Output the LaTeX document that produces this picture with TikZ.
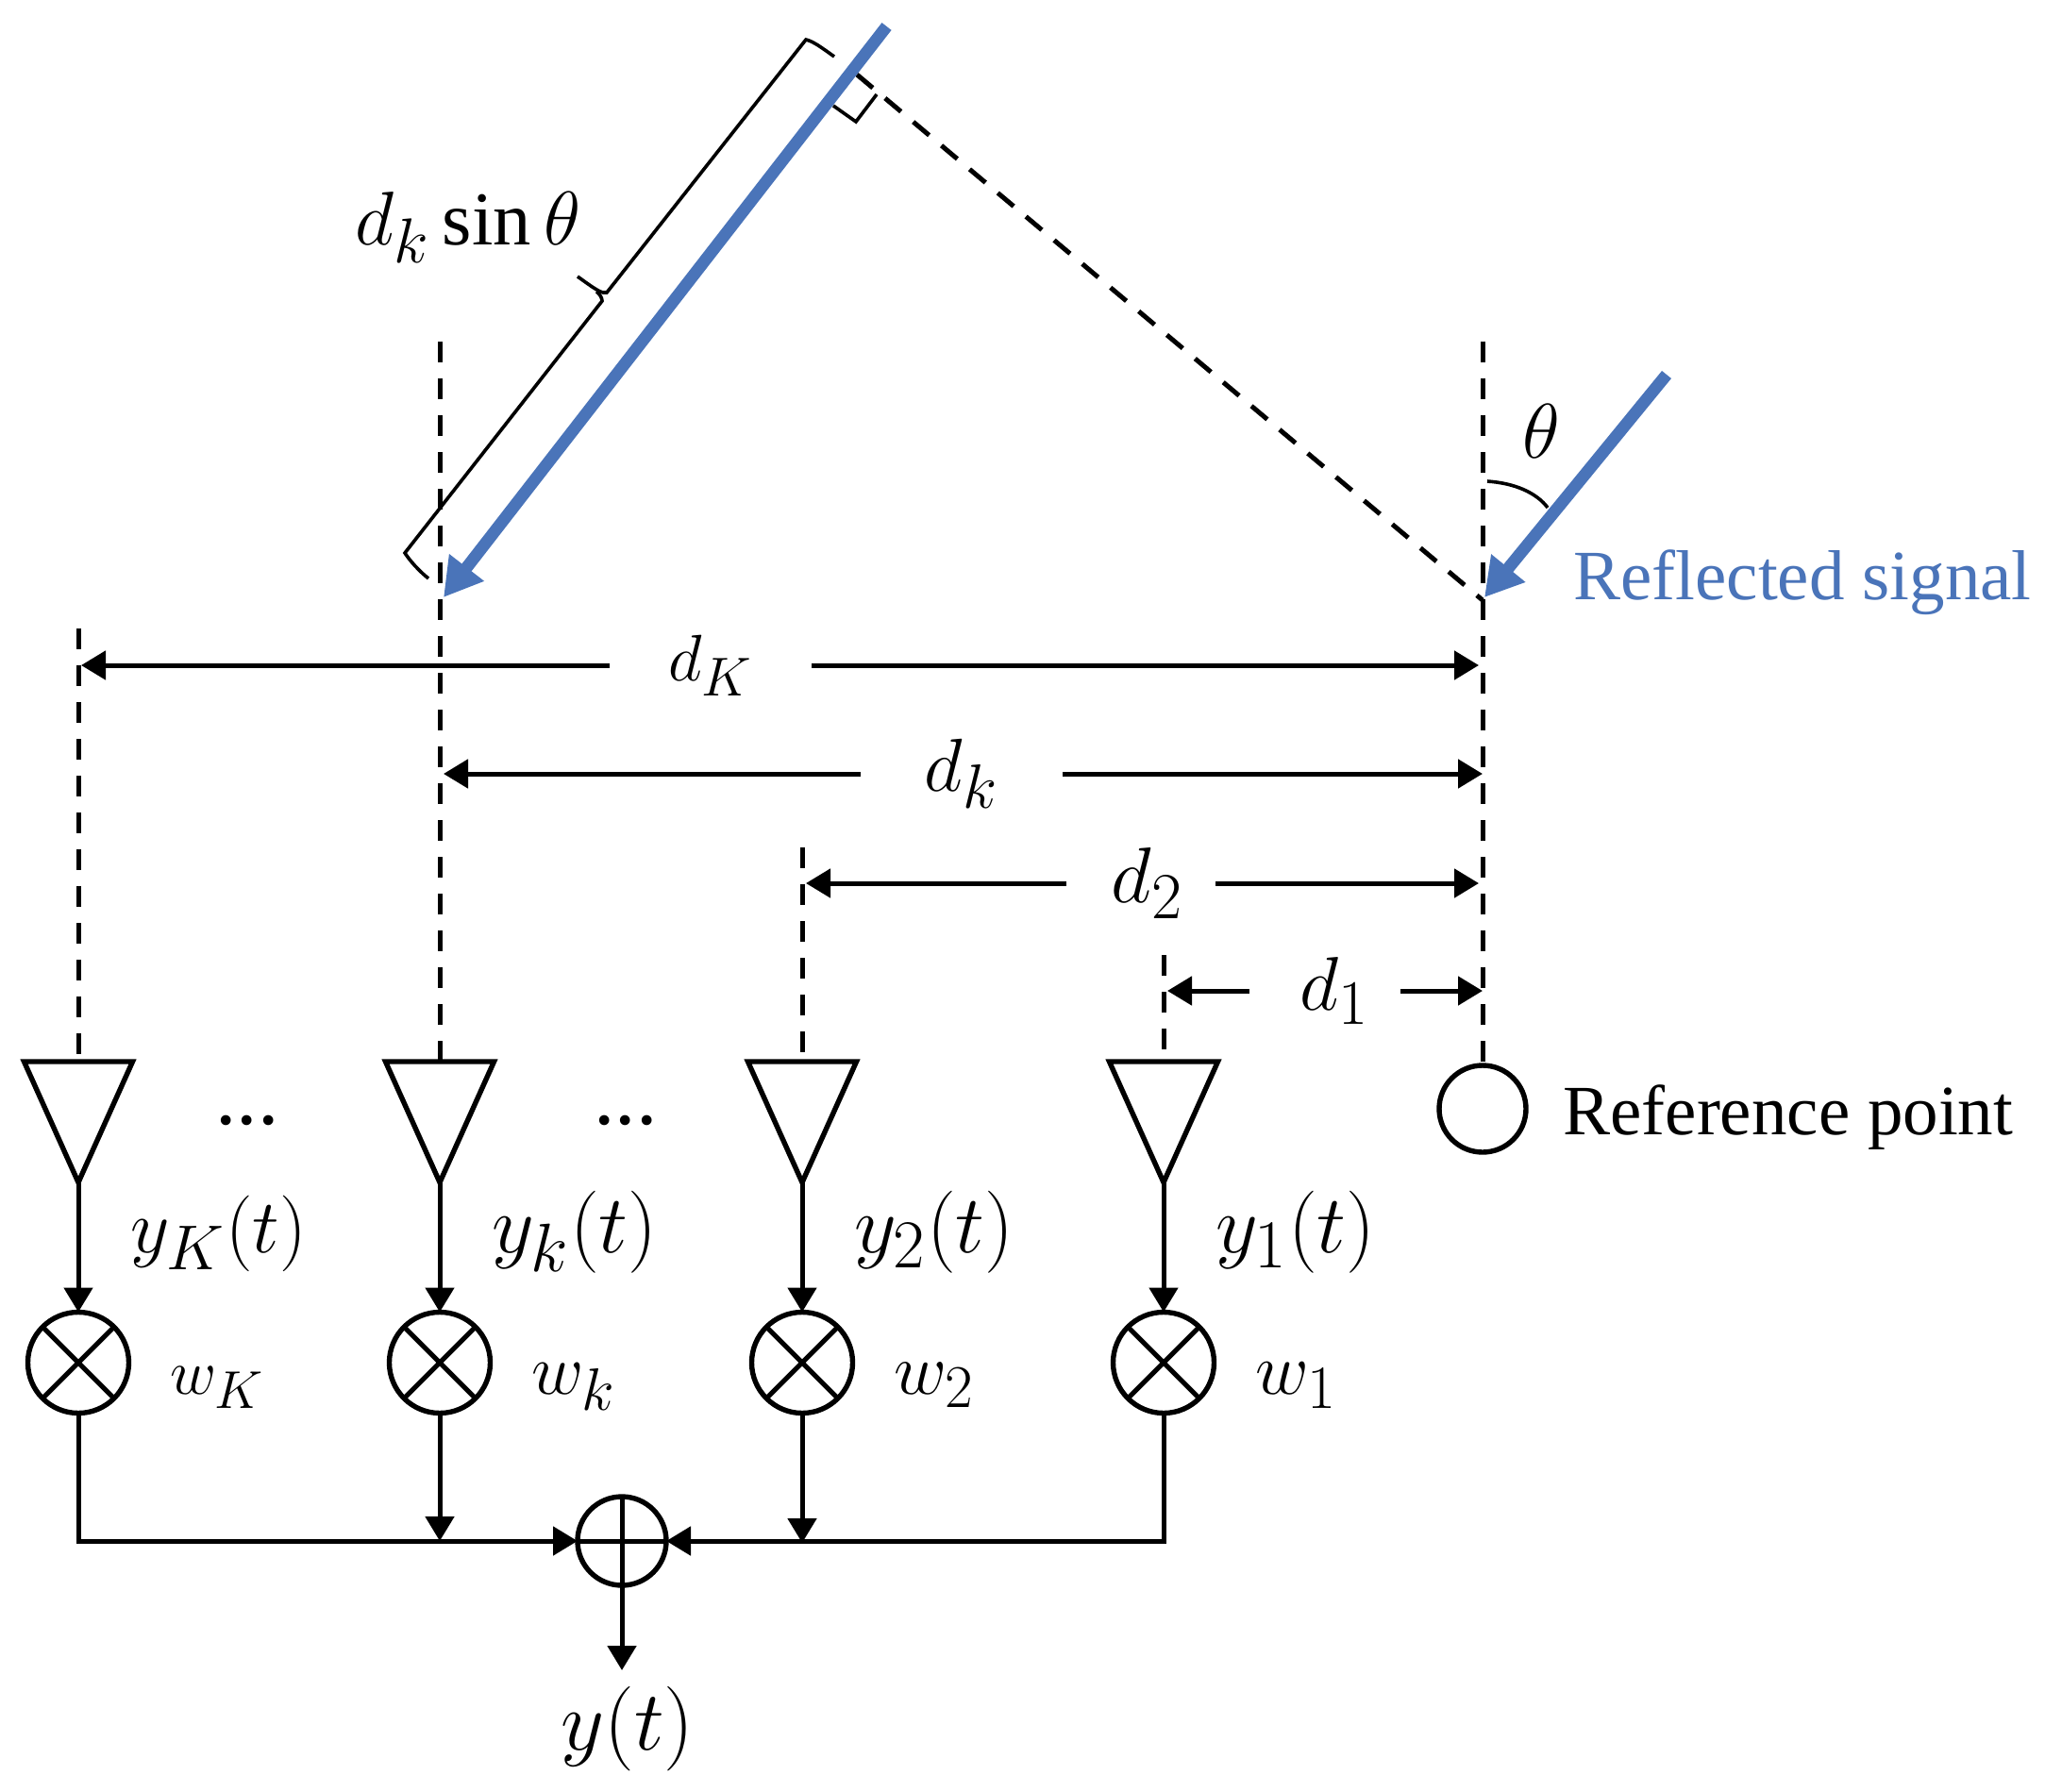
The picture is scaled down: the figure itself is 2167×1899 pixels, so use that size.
\documentclass[tikz,border=0pt]{standalone}
\usepackage{fontspec}
\setmainfont{Liberation Serif}
\usepackage{amsmath,amssymb}
\usetikzlibrary{positioning, shapes.geometric, arrows.meta}
\definecolor{myblue}{HTML}{4A74B9}
\newcommand{\lbl}[2][1.507]{\scalebox{#1}{\Huge #2}}
\tikzset{
  lab/.style={inner sep=0},
  ant/.style={draw, isosceles triangle, isosceles triangle stretches, shape border rotate=-90, minimum width=115*0.5pt, minimum height=128*0.5pt, inner sep=0, outer sep=0, anchor=apex, line width=2.7pt},
  ring/.style={draw, circle, inner sep=0, outer sep=0, line width=2.7pt},
  wire/.style={line width=2.5pt, -{Triangle[length=13pt,width=15pt]}},
  vdash/.style={line width=2.5pt, dash pattern=on 11pt off 8.5pt},
  ray/.style={myblue, line width=6.4pt, -{Triangle[length=20pt,width=22pt]}}
}
\begin{document}
\begin{tikzpicture}[x=0.5pt, y=-0.5pt]
  \useasboundingbox (0,0) rectangle (2167,1899);

  % Antenna columns
  \foreach \x/\n/\top/\sy/\sw in {83/K/666/1.62/1.36, 466/k/362/1.75/1.53, 850/2/898/1.75/1.55, 1233/1/1012/1.75/1.57} {
    \node[ant] (ant\n) at (\x,1253) {};
    \node[ring, minimum size=107*0.5pt] (mix\n) at (\x,1444) {};
    \draw[line width=2.5pt] (mix\n.45) -- (mix\n.225) (mix\n.135) -- (mix\n.-45);
    \coordinate (top\n) at (\x,\top);
    \draw[vdash] (top\n) -- (ant\n.lower side);
    \draw[wire] (ant\n.apex) -- (mix\n.north);
    \node[lab, anchor=base west] (y\n) at (\x+55,1327) {\lbl[\sy]{$y_\n(t)$}};
    \node[lab, anchor=base west] (w\n) at (\x+97,1477) {\lbl[\sw]{$w_\n$}};
  }

  % Reference point
  \node[ring, minimum size=92*0.5pt] (refpt) at (1571,1175) {};
  \node[lab, anchor=base west] (reftext) at (1656,1202) {\lbl{Reference point}};
  \coordinate (topref) at (1571,362);
  \draw[vdash] (topref) -- (refpt.north);

  \node[lab, anchor=base] (dots1) at (262,1191) {\lbl[1.8]{...}};
  \node[lab, anchor=base] (dots2) at (663,1191) {\lbl[1.8]{...}};

  % Distance arrows
  \node[lab, minimum width=213*0.5pt] (dK) at (753,705) {\lbl[1.4]{$d_K$}};
  \node[lab, minimum width=213*0.5pt] (dk) at (1019,820) {\lbl[1.6]{$d_k$}};
  \node[lab, minimum width=158*0.5pt] (d2) at (1209,936) {\hspace*{7pt}\lbl[1.68]{$d_2$}};
  \node[lab, minimum width=160*0.5pt] (d1) at (1404,1050) {\hspace*{10pt}\lbl[1.62]{$d_1$}};
  \foreach \n/\y/\l/\r in {K/705/86/1567, k/820/470/1571, 2/936/854/1567, 1/1050/1237/1571} {
    \coordinate (lend\n) at (\l,\y);
    \coordinate (rend\n) at (\r,\y);
    \draw[wire] (d\n.west) -- (lend\n);
    \draw[wire] (d\n.east) -- (rend\n);
  }

  % Summer
  \node[ring, minimum size=94*0.5pt] (sum) at (659,1633) {};
  \draw[line width=2.5pt] (sum.north) -- (sum.south) (sum.west) -- (sum.east);
  \coordinate (joink) at (466,1633);
  \coordinate (join2) at (850,1635);
  \coordinate (out) at (659,1770);
  \draw[wire] (mixK.south) |- (sum.west);
  \draw[wire] (mixk.south) -- (joink);
  \draw[wire] (mix2.south) -- (join2);
  \draw[wire] (mix1.south) |- (sum.east);
  \draw[wire] (sum.south) -- (out);
  \node[lab, anchor=base west] (yout) at (594,1854) {\lbl[1.8]{$y(t)$}};

  % Path difference
  \coordinate (rayA) at (939.5,28);
  \coordinate (rayAend) at (470,633);
  \coordinate (rayB) at (1766,397);
  \coordinate (rayBend) at (1573,633);
  \draw[vdash] (908,79) -- (1571,636);
  \draw[line width=1.8pt] (883,112) -- (907,129) -- (929,100);
  \draw[line width=1.8pt] (884,60) .. controls (870,50) and (862,44) .. (854,42) -- (643,310) .. controls (638,311) and (634,309) .. (612,293);
  \draw[line width=1.8pt] (632,309) .. controls (636,312) and (638,316) .. (638,319) -- (429,586) .. controls (435,595) and (444,605) .. (454,613);
  \draw[ray] (rayA) -- (rayAend);
  \draw[ray] (rayB) -- (rayBend);
  \draw[line width=1.8pt] (1576,510) .. controls (1605,512) and (1628,522) .. (1640,538);

  \node[lab, anchor=base west] (dsin) at (376,260) {\lbl[1.62]{$d_k\sin\theta$}};
  \node[lab] (theta) at (1633,457) {\lbl[1.65]{$\theta$}};
  \node[lab, anchor=base west, text=myblue] (reflected) at (1667,635) {\lbl{Reflected signal}};
\end{tikzpicture}
\end{document}
